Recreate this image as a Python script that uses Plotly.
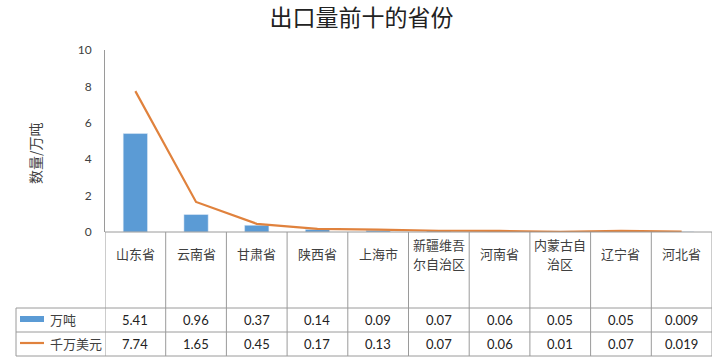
import plotly.graph_objects as go

categories = ["山东省", "云南省", "甘肃省", "陕西省", "上海市", "新疆维吾尔自治区", "河南省", "内蒙古自治区", "辽宁省", "河北省"]
category_labels = ["山东省", "云南省", "甘肃省", "陕西省", "上海市", "新疆维吾|尔自治区", "河南省", "内蒙古自|治区", "辽宁省", "河北省"]
tons = [5.41, 0.96, 0.37, 0.14, 0.09, 0.07, 0.06, 0.05, 0.05, 0.009]
tons_text = ["5.41", "0.96", "0.37", "0.14", "0.09", "0.07", "0.06", "0.05", "0.05", "0.009"]
usd = [7.74, 1.65, 0.45, 0.17, 0.13, 0.07, 0.06, 0.01, 0.07, 0.019]
usd_text = ["7.74", "1.65", "0.45", "0.17", "0.13", "0.07", "0.06", "0.01", "0.07", "0.019"]
series_names = ["万吨", "千万美元"]
y_ticks = [0, 2, 4, 6, 8, 10]

BLUE = "#5B9BD5"
ORANGE = "#E0823D"
GRID = "#9A9A9A"
TXT = "#404040"
CJK = "Noto Sans CJK SC"
NUM = "Lato, Noto Sans CJK SC"

W, H = 723, 363
L, R, T, B = 105, 11, 50, 131
PW = W - L - R
PH = H - T - B

def px(xp):
    return (xp - L) / PW

def py(yp):
    return (H - B - yp) / PH

n = len(categories)
xi = list(range(n))

fig = go.Figure()
fig.add_trace(go.Bar(x=xi, y=tons, name=series_names[0], marker_color=BLUE, width=0.4))
fig.add_trace(go.Scatter(x=xi, y=usd, name=series_names[1], mode="lines",
                         line=dict(color=ORANGE, width=2.2)))

shapes = []
annotations = []

for yp in [308, 332, 356]:
    shapes.append(dict(type="line", xref="paper", yref="paper", x0=px(16), x1=1,
                       y0=py(yp), y1=py(yp), line=dict(color=GRID, width=1)))
shapes.append(dict(type="line", xref="paper", yref="paper", x0=0, x1=1,
                   y0=0, y1=0, line=dict(color=GRID, width=1)))
for i in range(n + 1):
    shapes.append(dict(type="line", xref="x", yref="paper", x0=i - 0.5, x1=i - 0.5,
                       y0=0, y1=py(356), line=dict(color=GRID, width=1)))
shapes.append(dict(type="line", xref="paper", yref="paper", x0=px(16), x1=px(16),
                   y0=py(308), y1=py(356), line=dict(color=GRID, width=1)))
shapes.append(dict(type="rect", xref="paper", yref="paper", x0=px(20), x1=px(44),
                   y0=py(322), y1=py(316), fillcolor=BLUE, line=dict(width=0)))
shapes.append(dict(type="line", xref="paper", yref="paper", x0=px(20), x1=px(44),
                   y0=py(343), y1=py(343), line=dict(color=ORANGE, width=2.2)))

for i in range(n):
    parts = category_labels[i].split("|")
    if len(parts) == 1:
        ys = [253]
    else:
        ys = [243.5, 262.5]
    for part, yy in zip(parts, ys):
        annotations.append(dict(x=i, y=py(yy), xref="x", yref="paper", text=part,
                                showarrow=False, font=dict(family=CJK, size=13, color=TXT),
                                xanchor="center", yanchor="middle", height=16))
    annotations.append(dict(x=i, y=py(320), xref="x", yref="paper", text=tons_text[i],
                            showarrow=False, font=dict(family=NUM, size=13, color="#222"),
                            xanchor="center", yanchor="middle"))
    annotations.append(dict(x=i, y=py(344), xref="x", yref="paper", text=usd_text[i],
                            showarrow=False, font=dict(family=NUM, size=13, color="#222"),
                            xanchor="center", yanchor="middle"))

annotations.append(dict(x=px(48), y=py(319), xref="paper", yref="paper", text=series_names[0],
                        showarrow=False, font=dict(family=CJK, size=13, color=TXT),
                        xanchor="left", yanchor="middle"))
annotations.append(dict(x=px(48), y=py(343), xref="paper", yref="paper", text=series_names[1],
                        showarrow=False, font=dict(family=CJK, size=13, color=TXT),
                        xanchor="left", yanchor="middle"))
annotations.append(dict(x=px(35), y=py(153), xref="paper", yref="paper", text="数量/万吨",
                        showarrow=False, textangle=-90, font=dict(family=CJK, size=14, color=TXT),
                        xanchor="center", yanchor="middle"))

fig.update_layout(
    width=W, height=H,
    margin=dict(l=L, r=R, t=T, b=B, pad=0),
    paper_bgcolor="white", plot_bgcolor="white",
    showlegend=False,
    title=dict(text="出口量前十的省份", x=0.5, xanchor="center", y=1 - 18 / H, yanchor="middle",
               font=dict(family=CJK, size=23, color="#222")),
    xaxis=dict(range=[-0.5, n - 0.5], showticklabels=False, showgrid=False, zeroline=False,
               ticks="", showline=False),
    yaxis=dict(range=[0, 10], tickvals=y_ticks, showgrid=False, zeroline=False,
               showline=True, linecolor=GRID, linewidth=1, ticks="",
               tickfont=dict(family=NUM, size=12, color=TXT), ticklabelstandoff=10),
    shapes=shapes,
    annotations=annotations,
    bargap=0.6,
)

fig.write_html("out.html")
